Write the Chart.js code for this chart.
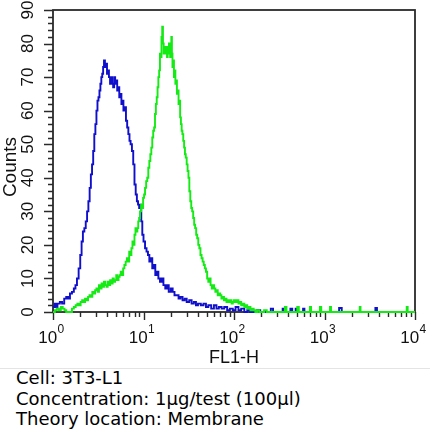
<!DOCTYPE html>
<html>
<head>
<meta charset="utf-8">
<title>FL1-H histogram</title>
<script src="https://cdn.jsdelivr.net/npm/chart.js@4.4.0/dist/chart.umd.min.js"></script>
<style>
  html, body { margin: 0; padding: 0; background: #fff; }
  #wrap { position: relative; width: 430px; height: 430px; overflow: hidden; }
  #histo { position: absolute; left: 0; top: 0; }
  #sep { position: absolute; left: 0; top: 368px; width: 430px; height: 1px; background: #e4e4e4; }
  #info { position: absolute; left: 16px; top: 368px; font-family: "DejaVu Sans"; font-size: 18px; line-height: 20.5px; color: #000; white-space: nowrap; }
</style>
</head>
<body>
<div id="wrap">
  <canvas id="histo" width="430" height="366"></canvas>
  <div id="sep"></div>
  <div id="info">
    <div>Cell: 3T3-L1</div>
    <div>Concentration: 1µg/test (100µl)</div>
    <div>Theory location: Membrane</div>
  </div>
</div>
<script>
// Isotype control (blue) - FL1-H channel values and counts
const blueX = [1.00, 1.04, 1.08, 1.12, 1.19, 1.26, 1.33, 1.40, 1.47, 1.54, 1.62, 1.70, 1.77, 1.84, 1.92,
  2.00, 2.07, 2.14, 2.22, 2.30, 2.38, 2.46, 2.54, 2.62, 2.70, 2.78, 2.86, 2.94, 3.02, 3.10, 3.18, 3.26,
  3.34, 3.42, 3.50, 3.58, 3.66, 3.75, 3.85, 3.95, 4.05, 4.15, 4.27, 4.39, 4.50, 4.62, 4.74, 4.86, 5.00,
  5.12, 5.25, 5.40, 5.55, 5.70, 5.85, 6.00, 6.20, 6.40, 6.60, 6.80, 7.00, 7.20, 7.45, 7.70, 7.95, 8.20,
  8.45, 8.70, 8.95, 9.20, 9.45, 9.70, 10.0, 10.4, 10.8, 11.2, 11.6, 12.0, 12.5, 13.0, 13.5, 14.0, 14.6,
  15.2, 15.9, 16.6, 17.4, 18.2, 19.0, 20.0, 21.0, 22.0, 23.2, 24.4, 25.6, 27.0, 28.5, 30.0, 32, 34, 36,
  38, 40, 43, 46, 49, 52, 56, 60, 64, 68, 73, 78, 84, 90, 97, 104, 112, 120, 130, 140, 150, 165, 180,
  195, 240, 255, 270, 330, 345, 360, 400, 420, 440, 480, 500, 560, 580, 600, 1000, 1350, 1450, 1550,
  2000, 3500, 3650, 3800, 10000];
const blueCounts = [1.5, 2.5, 1.5, 2.5, 3, 2.5, 4, 4.5, 4, 5.5, 6, 7, 8, 10, 13,
  17, 21, 24, 25, 27, 30, 33, 37, 41, 44, 48, 53, 56, 60, 63, 64, 66,
  68, 70, 71, 73, 75, 73, 74, 71, 72, 70, 68, 70, 68, 67, 70, 68, 69,
  66, 67, 64, 65, 62, 63, 60, 61, 57, 55, 53, 51, 50, 48, 44, 38, 35,
  33, 32, 31, 32, 27, 23, 21, 19, 18, 17, 15, 16, 13, 14, 11, 12, 10,
  9, 10, 8, 7, 8, 6, 7, 6, 5, 5, 4, 4.5, 3.5, 4, 3, 3.5, 2.5, 3,
  2, 2.5, 2, 2.5, 1.5, 2, 1, 2, 1, 1.5, 1, 1.5, 0.5, 1, 0.5, 1.5, 0.5, 1, 0, 0.5, 0, 0, 0.5,
  0, 0, 1, 0, 0, 1, 0, 0, 1, 0, 1, 0, 0, 1, 0, 0, 0, 1.2, 0,
  0, 0, 1.2, 0, 0];

// Antibody stained (green) - FL1-H channel values and counts
const greenX = [1.00, 1.05, 1.10, 1.16, 1.22, 1.28, 1.34, 1.40, 1.47, 1.54, 1.62, 1.70, 1.78, 1.86, 1.94,
  2.02, 2.10, 2.18, 2.26, 2.35, 2.44, 2.53, 2.62, 2.72, 2.82, 2.92, 3.02, 3.12, 3.22, 3.33, 3.44, 3.55,
  3.66, 3.78, 3.90, 4.02, 4.15, 4.28, 4.42, 4.56, 4.70, 4.85, 5.00, 5.15, 5.30, 5.45, 5.60, 5.78, 5.96,
  6.15, 6.35, 6.55, 6.75, 6.95, 7.15, 7.35, 7.55, 7.75, 7.95, 8.15, 8.35, 8.55, 8.75, 8.95, 9.15, 9.40,
  9.65, 9.90, 10.15, 10.4, 10.7, 11.0, 11.3, 11.6, 11.9, 12.2, 12.5, 12.8, 13.1, 13.4, 13.7, 14.0, 14.3,
  14.6, 14.9, 15.2, 15.5, 15.8, 16.1, 16.4, 16.7, 17.0, 17.3, 17.6, 17.9, 18.2, 18.5, 18.8, 19.1, 19.4,
  19.7, 20.0, 20.3, 20.6, 20.9, 21.3, 21.7, 22.1, 22.5, 22.9, 23.4, 23.9, 24.4, 24.9, 25.4, 25.9, 26.4,
  26.9, 27.5, 28.1, 28.7, 29.3, 30.0, 30.7, 31.4, 32.1, 32.9, 33.7, 34.5, 35.4, 36.3, 37.2, 38.2, 39.2,
  40.3, 41.4, 42.6, 43.8, 45.0, 46.3, 47.6, 49.0, 50.5, 52.0, 53.5, 55.1, 56.8, 58.5, 60.3, 62.2, 64.1,
  66.1, 68.2, 70.4, 72.6, 75, 77.5, 80, 82.6, 85.3, 88, 91, 94, 97, 100, 104, 108, 112, 116, 120, 125,
  130, 135, 140, 146, 152, 158, 165, 172, 180, 190, 200, 215, 230, 350, 365, 380, 480, 500, 520, 670,
  690, 710, 860, 890, 920, 1120, 1150, 1180, 2400, 2450, 2500, 7900, 8100, 8300, 10000];
const greenCounts = [0, 0.5, 1, 0.5, 1.5, 1, 0.5, 0, 0, 0, 1, 1.5, 2, 2.5, 2,
  3, 3.5, 3, 4, 3.5, 4.5, 5, 4.5, 6, 5.5, 6.5, 7, 6, 8, 7, 8.5, 7.5,
  9, 8, 7.5, 9, 8, 9.5, 8.5, 10, 9, 9.5, 11, 9.5, 10.5, 11, 12, 11, 13,
  14, 15, 16, 15, 18, 17, 19, 21, 20, 23, 25, 24, 25, 27, 28, 30, 32,
  31, 34, 35, 37, 39, 40, 43, 45, 47, 49, 52, 54, 55, 59, 62, 64, 67,
  70, 72, 77, 76, 82, 85, 80, 77, 79, 77, 79, 78, 76, 79, 77, 80, 78,
  76, 78, 82, 77, 73, 75, 70, 72, 68, 69, 65, 66, 62, 63, 58, 56, 54,
  53, 51, 49, 47, 46, 44, 42, 40, 36, 33, 31, 30, 28, 26, 25, 23, 22,
  20, 19, 17, 16, 15, 14, 13, 12, 10, 9, 10, 8, 7, 8, 7, 6, 6.5,
  5, 5.5, 5, 4, 4.5, 3.5, 4, 3, 3.5, 3, 3.5, 2.5, 3, 3.5, 3, 3.5, 2.5, 3, 2, 2.5,
  1.5, 2, 1, 1.5, 0.5, 1, 0.5, 0, 0.5, 0, 0, 0.5, 0, 0, 1.5, 0, 0, 1.5, 0, 0,
  1.5, 0, 0, 1.5, 0, 0, 1.5, 0, 0, 1.5, 0, 0, 1.5, 0, 0];

// Axis ticks and labels
const xMajorValues = [1, 10, 100, 1000, 10000];
const xMajorExponents = ['0', '1', '2', '3', '4'];
const xMinorFactors = [2, 3, 4, 5, 6, 7, 8, 9];
const yMajorValues = [0, 10, 20, 30, 40, 50, 60, 70, 80, 90];
const yMajorLabels = ['0', '10', '20', '30', '40', '50', '60', '70', '80', '90'];
const yMinorStep = 2;

const xTitle = 'FL1-H';
const yTitle = 'Counts';

function toPoints(xs, ys) {
  return xs.map((x, i) => ({ x: x, y: ys[i] }));
}

// frame, tick marks and labels drawn from the chart's own scales
const facsAxes = {
  id: 'facsAxes',
  beforeDatasetsDraw(chart) {
    const ctx = chart.ctx;
    const a = chart.chartArea;
    const xs = chart.scales.x;
    const ys = chart.scales.y;
    ctx.save();
    ctx.strokeStyle = '#2a2a2a';
    ctx.lineWidth = 1.8;
    ctx.strokeRect(a.left, a.top, a.right - a.left, a.bottom - a.top);

    ctx.lineWidth = 1.4;
    ctx.beginPath();
    // y ticks
    for (let v = 0; v <= 90; v += yMinorStep) {
      const py = Math.round(ys.getPixelForValue(v)) + 0.5;
      const len = (v % 10 === 0) ? 9 : 5;
      ctx.moveTo(a.left - len, py);
      ctx.lineTo(a.left, py);
    }
    // x ticks
    xMajorValues.forEach((v, i) => {
      const px = Math.round(xs.getPixelForValue(v)) + 0.5;
      ctx.moveTo(px, a.bottom);
      ctx.lineTo(px, a.bottom + 8);
      if (i < xMajorValues.length - 1) {
        xMinorFactors.forEach(f => {
          const mx = Math.round(xs.getPixelForValue(v * f)) + 0.5;
          ctx.moveTo(mx, a.bottom);
          ctx.lineTo(mx, a.bottom + 5);
        });
      }
    });
    ctx.stroke();

    ctx.fillStyle = '#111';
    // y labels, rotated
    ctx.font = '17px "Liberation Sans"';
    ctx.textAlign = 'center';
    ctx.textBaseline = 'alphabetic';
    yMajorValues.forEach((v, i) => {
      const py = ys.getPixelForValue(v);
      ctx.save();
      ctx.translate(33, py);
      ctx.rotate(-Math.PI / 2);
      ctx.fillText(yMajorLabels[i], 0, 0);
      ctx.restore();
    });
    ctx.save();
    ctx.font = '19px "Liberation Sans"';
    ctx.translate(16, (a.top + a.bottom) / 2 + 6);
    ctx.rotate(-Math.PI / 2);
    ctx.fillText(yTitle, 0, 0);
    ctx.restore();

    // x labels 10^n
    ctx.textAlign = 'left';
    xMajorValues.forEach((v, i) => {
      const px = xs.getPixelForValue(v);
      ctx.font = '17px "Liberation Sans"';
      const w1 = ctx.measureText('10').width;
      ctx.font = '12px "Liberation Sans"';
      const w2 = ctx.measureText(xMajorExponents[i]).width;
      const left = px - 2 - (w1 + w2) / 2;
      ctx.font = '17px "Liberation Sans"';
      ctx.fillText('10', left, 343);
      ctx.font = '12px "Liberation Sans"';
      ctx.fillText(xMajorExponents[i], left + w1 + 0.5, 333);
    });
    ctx.font = '18px "Liberation Sans"';
    ctx.textAlign = 'center';
    ctx.fillText(xTitle, (a.left + a.right) / 2, 363);
    ctx.restore();
  }
};

function initHistogram() {
  const ctx = document.getElementById('histo').getContext('2d');
  new Chart(ctx, {
    type: 'line',
    data: {
      datasets: [{
        label: 'Antibody',
        data: toPoints(greenX, greenCounts),
        borderColor: '#14ea14',
        borderWidth: 1.9,
        stepped: true,
        clip: 2
      }, {
        label: 'Isotype',
        data: toPoints(blueX, blueCounts),
        borderColor: '#1010cc',
        borderWidth: 1.9,
        stepped: true,
        clip: 2
      }]
    },
    options: {
      responsive: false,
      animation: false,
      layout: { padding: { left: 53, right: 15, top: 10, bottom: 54 } },
      plugins: {
        legend: { display: false },
        tooltip: { enabled: false }
      },
      elements: { point: { radius: 0 }, line: { tension: 0 } },
      scales: {
        x: { type: 'logarithmic', min: 1, max: 10000, display: false },
        y: { type: 'linear', min: 0, max: 90, display: false }
      }
    },
    plugins: [facsAxes]
  });
}

window.onload = function() {
  initHistogram();
};
</script>
</body>
</html>
